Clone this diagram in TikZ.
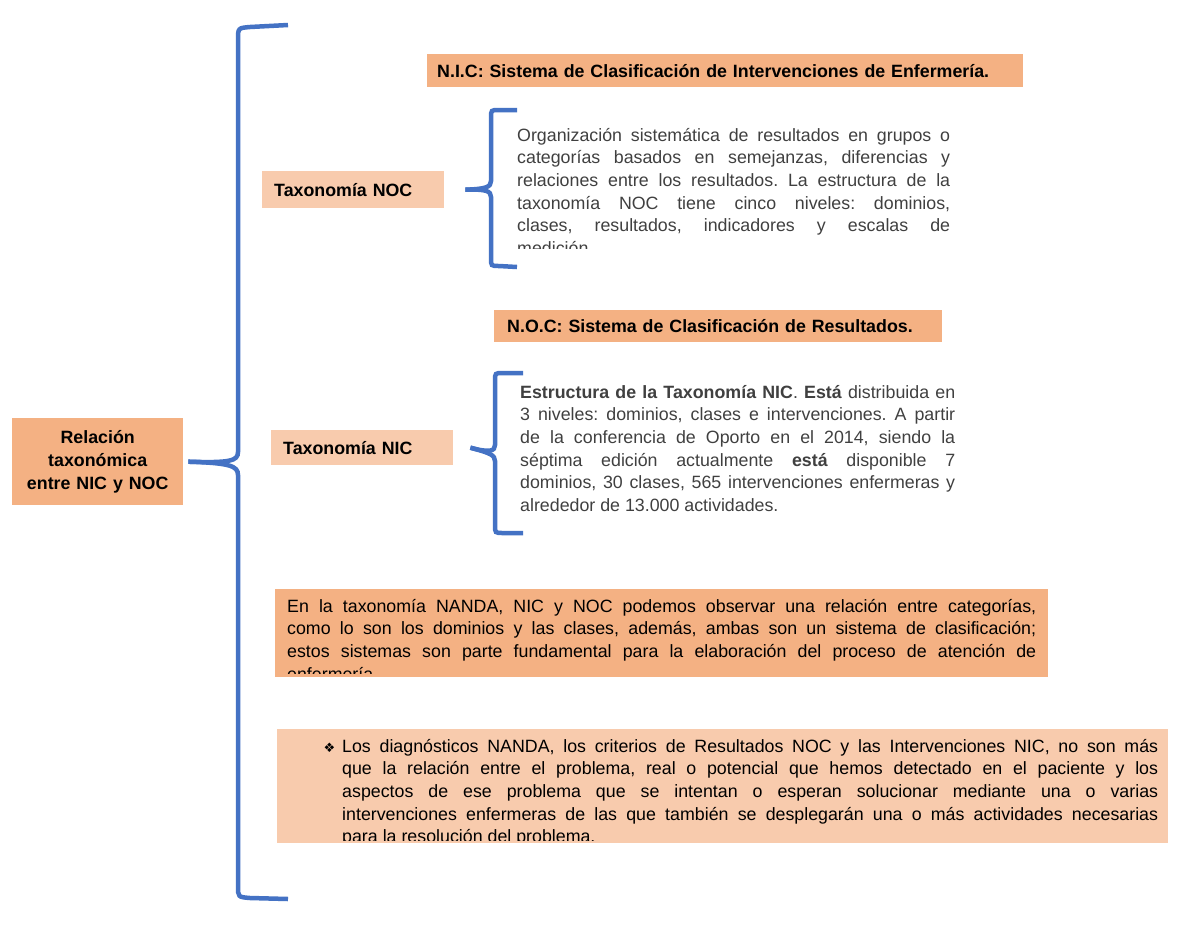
\documentclass[tikz,border=0pt]{standalone}
\usepackage{fontspec}
\setmainfont{Liberation Sans}
\newfontfamily\dingfont{DejaVu Sans}
\usetikzlibrary{positioning}
\definecolor{orangeDark}{HTML}{F4B183}
\definecolor{orangeLight}{HTML}{F8CBAD}
\definecolor{braceBlue}{HTML}{4472C4}
\definecolor{bodyGray}{HTML}{404040}
\hyphenpenalty=10000
\exhyphenpenalty=10000
\frenchspacing

\begin{document}
\begin{tikzpicture}[x=1pt, y=-1pt]
	\tikzstyle{head} = [rectangle, fill=orangeDark, anchor=north west, inner xsep=10pt, 
	inner ysep=0pt, minimum height=33pt, align=left, font=\bfseries\fontsize{17.8}{22.5}\selectfont]
	\tikzstyle{tag} = [rectangle, fill=orangeLight, anchor=north west, inner xsep=12pt, 
	inner ysep=0pt, minimum height=36pt, align=left, font=\bfseries\fontsize{17.8}{22.5}\selectfont]
	\tikzstyle{body} = [anchor=north west, inner sep=0pt, align=justify, text=bodyGray, 
	font=\fontsize{17.8}{22.6}\selectfont]
	\tikzstyle{panel} = [rectangle, anchor=north west, inner sep=0pt]
	\tikzstyle{brace} = [draw=braceBlue, line width=4.5pt]
	\useasboundingbox [fill=white] (0,0) rectangle (1200,927);
	% root box
	\node (relation) [panel, fill=orangeDark, minimum width=171pt, minimum height=87pt, 
	text width=171pt, align=center, font=\bfseries\fontsize{17.8}{23}\selectfont] 
	at (12,418) {Relación\\taxonómica\\entre NIC y NOC};
	% headers
	\node (nicHead) [head, text width=576pt] at (427,54) 
	{N.I.C: Sistema de Clasificación de Intervenciones de Enfermería.};
	\node (nocHead) [head, text width=422pt, inner xsep=13pt, minimum height=32pt] at (494,310) 
	{N.O.C: Sistema de Clasificación de Resultados.};
	% taxonomy tags
	\node (nocTag) [tag, text width=158pt, minimum height=37pt] at (262,171) {Taxonomía NOC};
	\node (nicTag) [tag, text width=158pt, minimum height=35pt] at (271,430) {Taxonomía NIC};
	% NOC text
	\begin{scope}
		\clip (510,105) rectangle (960,248);
		\node (nocText) [body, text width=433pt] at (517,128) 
		{Organización sistemática de resultados en grupos o\linebreak
		categorías basados en semejanzas, diferencias y\linebreak
		relaciones entre los resultados. La estructura de la\linebreak
		taxonomía NOC tiene cinco niveles: dominios,\linebreak
		clases, resultados, indicadores y escalas de\linebreak
		medición.};
	\end{scope}
	% NIC text
	\node (nicText) [body, text width=435pt] at (520,385) 
	{\textbf{Estructura de la Taxonomía NIC}. \textbf{Está} distribuida en\linebreak
	3 niveles: dominios, clases e intervenciones. A partir\linebreak
	de la conferencia de Oporto en el 2014, siendo la\linebreak
	séptima edición actualmente \textbf{está} disponible 7\linebreak
	dominios, 30 clases, 565 intervenciones enfermeras y\linebreak
	alrededor de 13.000 actividades.};
	% relation panel
	\node (relPanel) [panel, fill=orangeDark, minimum width=773pt, minimum height=88pt] at (275,589) {};
	\begin{scope}
		\clip (relPanel.north west) rectangle ([yshift=4pt]relPanel.south east);
		\node (relText) [body, text=black, text width=749pt] at (287,599) 
		{En la taxonomía NANDA, NIC y NOC podemos observar una relación entre categorías,\linebreak
		como lo son los dominios y las clases, además, ambas son un sistema de clasificación;\linebreak
		estos sistemas son parte fundamental para la elaboración del proceso de atención de\linebreak
		enfermería.};
	\end{scope}
	% diagnosis panel
	\node (diagPanel) [panel, fill=orangeLight, minimum width=891pt, minimum height=114pt] at (277,729) {};
	\begin{scope}
		\clip (diagPanel.north west) rectangle ([yshift=3pt]diagPanel.south east);
		\node (diagText) [body, text=black, text width=816pt] at (342,739) 
		{\leavevmode\llap{{\dingfont\fontsize{13}{13}\selectfont ❖}\hspace{7pt}}Los diagnósticos NANDA, los criterios de Resultados NOC y las Intervenciones NIC, no son más\linebreak
		que la relación entre el problema, real o potencial que hemos detectado en el paciente y los\linebreak
		aspectos de ese problema que se intentan o esperan solucionar mediante una o varias\linebreak
		intervenciones enfermeras de las que también se desplegarán una o más actividades necesarias\linebreak
		para la resolución del problema.};
	\end{scope}
	% braces
	\coordinate (bigTip) at ([xshift=5pt]relation.east);
	\coordinate (bigTop) at (288,25);
	\coordinate (bigBottom) at (288,899);
	\coordinate (nocTip) at ([xshift=21pt]nocTag.east);
	\coordinate (nocTop) at (517,110);
	\coordinate (nocBottom) at (517,267);
	\coordinate (nicTip) at ([xshift=17pt]nicTag.east);
	\coordinate (nicTop) at (523,373);
	\coordinate (nicBottom) at (523,533);
	\draw [brace] (bigTop) -- (250,27) .. controls (238,28) .. (238,40) -- (238,452) 
	.. controls (238,461) and (230,463) .. (bigTip);
	\draw [brace] (bigTip) .. controls (230,463) and (238,466) .. (238,475) -- (238,886) 
	.. controls (238,897) .. (250,898) -- (bigBottom);
	\draw [brace] (nocTop) -- (499,110) .. controls (491,110) .. (491,118) -- (491,181) 
	.. controls (491,187) and (486,189) .. (nocTip);
	\draw [brace] (nocTip) .. controls (486,189) and (491,191) .. (491,197) -- (491,258) 
	.. controls (491,266) .. (499,266) -- (nocBottom);
	\draw [brace] (nicTop) -- (503,373) .. controls (495,373) .. (495,381) -- (495,445) 
	.. controls (495,451) and (490,453) .. (nicTip);
	\draw [brace] (nicTip) .. controls (490,453) and (495,455) .. (495,461) -- (495,525) 
	.. controls (495,533) .. (503,533) -- (nicBottom);
\end{tikzpicture}
\end{document}
